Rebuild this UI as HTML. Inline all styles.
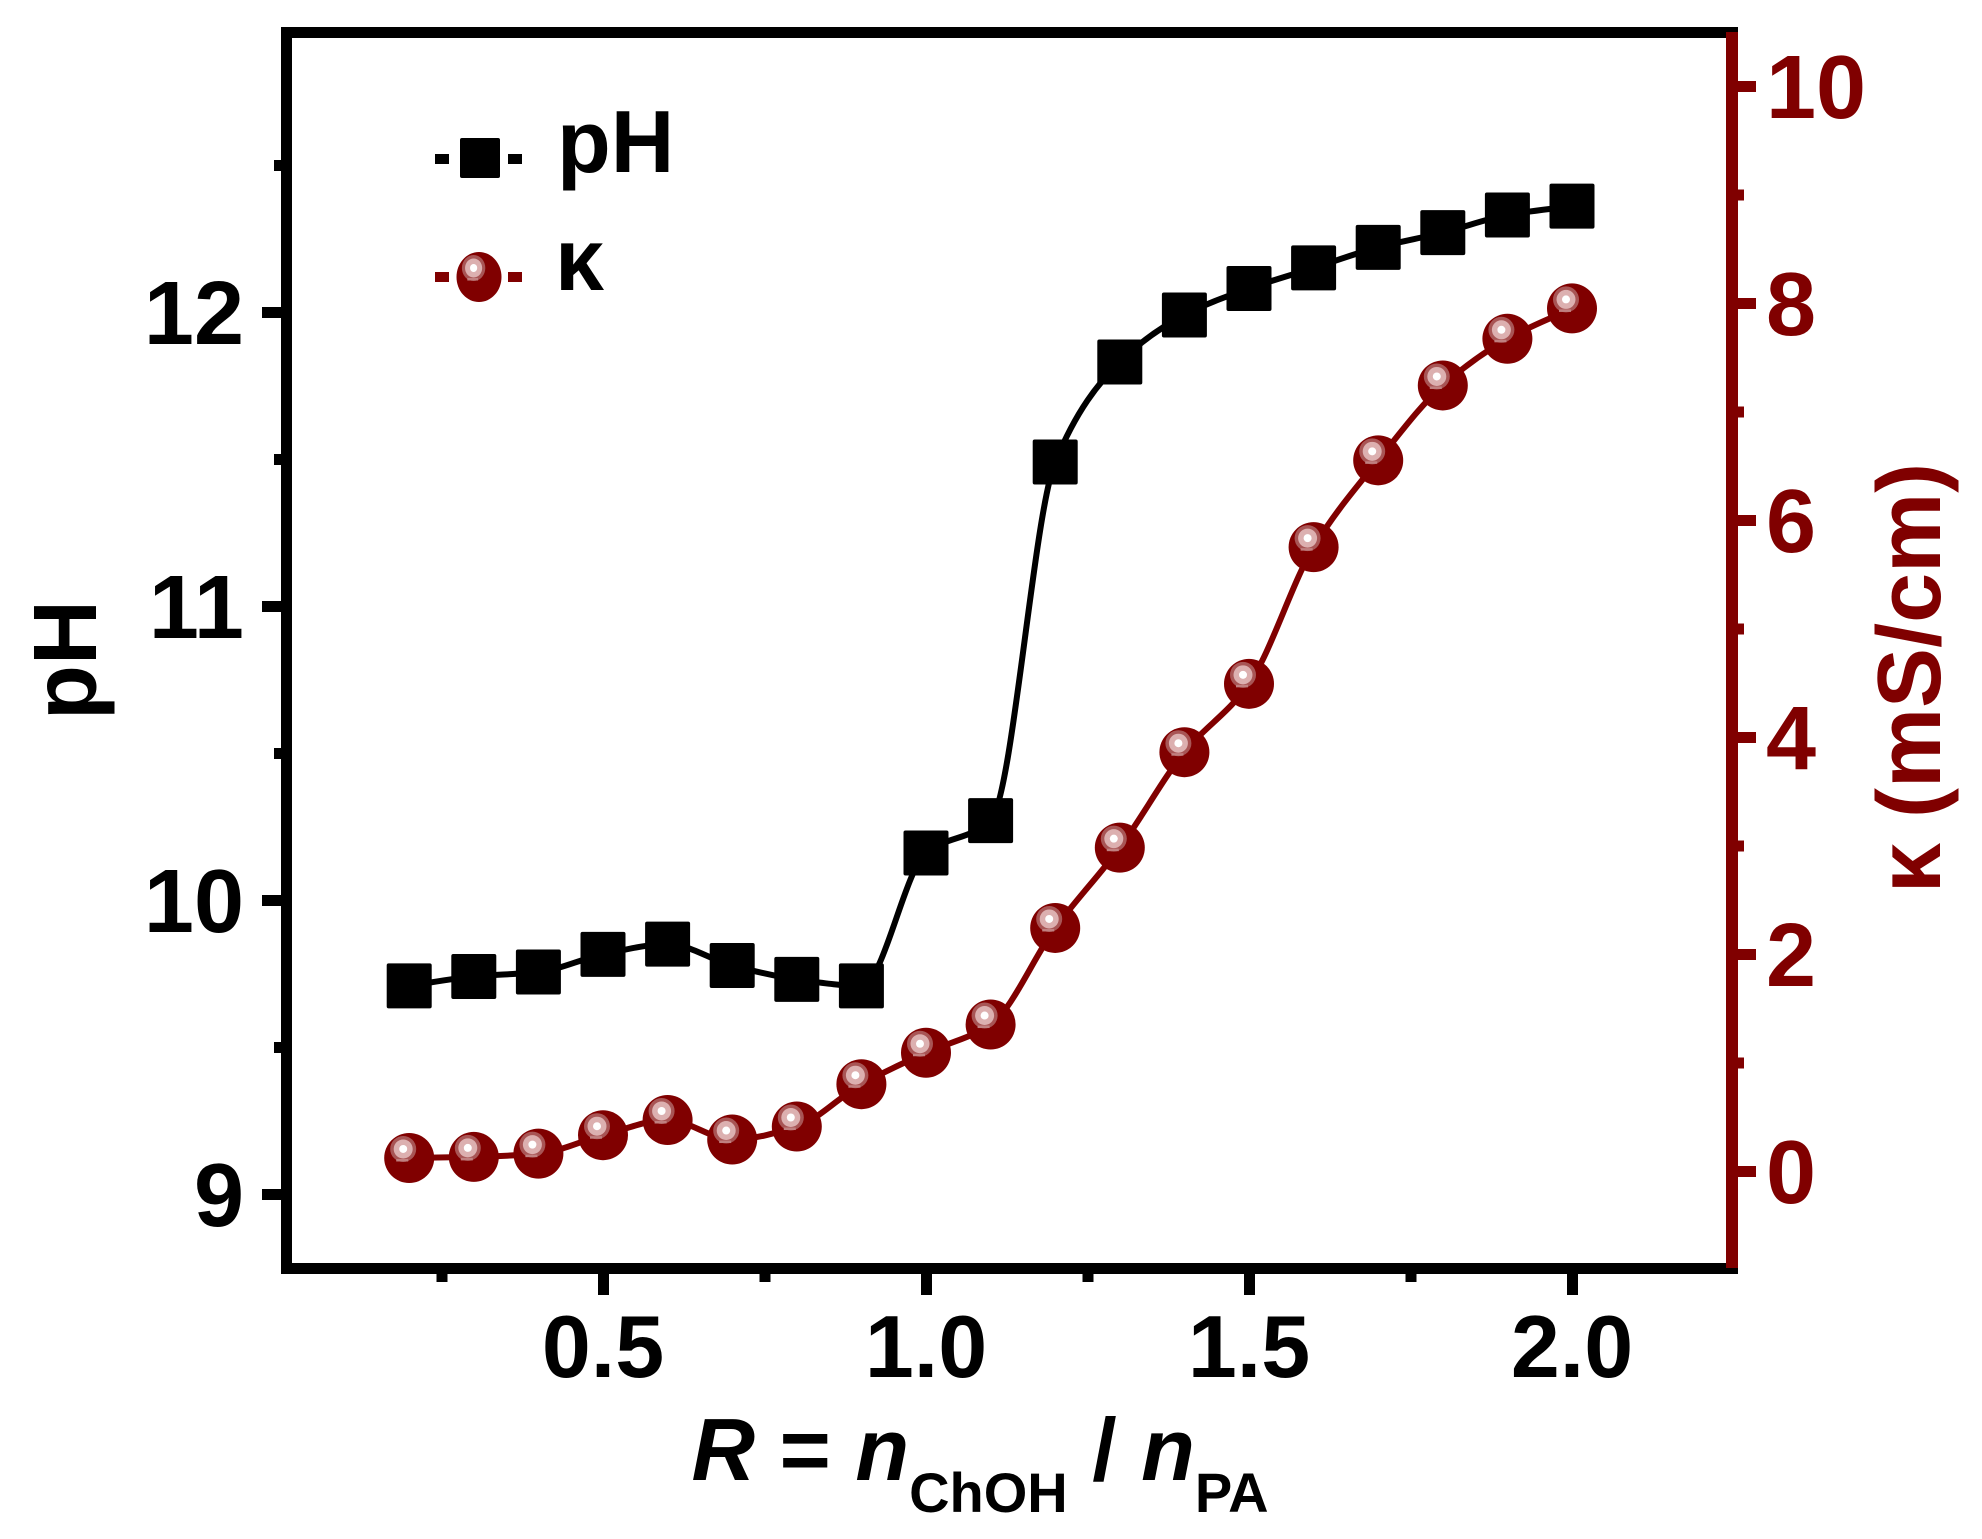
<!DOCTYPE html>
<html><head><meta charset="utf-8"><style>
html,body{margin:0;padding:0;background:#fff;}
svg{display:block;}
text{font-family:"Liberation Sans",Arial,sans-serif;font-weight:bold;}
</style></head><body>
<svg id="s" width="1982" height="1539" viewBox="0 0 1982 1539" xmlns="http://www.w3.org/2000/svg">
<defs>
<g id="ball">
<circle cx="0" cy="0" r="25" fill="#800000"/>
<circle cx="-6" cy="-9" r="13" fill="#a85555"/>
<circle cx="-6" cy="-9" r="9.5" fill="#dcb0b0"/>
<circle cx="-6" cy="-9" r="4" fill="#ffffff"/>
<rect x="-13" y="1" width="12" height="2.5" fill="#c08080"/>
</g>
</defs>
<g id="curves"></g>
<g id="marks"></g>
<rect x="281" y="27" width="1457" height="11" fill="#000"/>
<rect x="281" y="1263" width="1457" height="11" fill="#000"/>
<rect x="281" y="27" width="11" height="1247" fill="#000"/>
<rect x="1726" y="32" width="12" height="1236" fill="#800000"/>
<g id="ticks"></g>
<g font-size="90" fill="#000" text-anchor="end">
<text x="244" y="1226">9</text>
<text x="244" y="932">10</text>
<text x="244" y="638">11</text>
<text x="244" y="344">12</text>
</g>
<g font-size="90" fill="#800000" text-anchor="start">
<text x="1766" y="1203">0</text>
<text x="1766" y="986">2</text>
<text x="1766" y="769">4</text>
<text x="1766" y="552">6</text>
<text x="1766" y="335">8</text>
<text x="1766" y="118">10</text>
</g>
<g font-size="88" fill="#000" text-anchor="middle">
<text x="603" y="1377">0.5</text>
<text x="926" y="1377">1.0</text>
<text x="1249" y="1377">1.5</text>
<text x="1572" y="1377">2.0</text>
</g>
<text x="980" y="1480" font-size="88" text-anchor="middle"><tspan font-style="italic">R</tspan> = <tspan font-style="italic">n</tspan><tspan font-size="56" dy="32">ChOH</tspan><tspan dy="-32"> / </tspan><tspan font-style="italic">n</tspan><tspan font-size="56" dy="32">PA</tspan></text>
<text transform="translate(96,660) rotate(-90)" font-size="90" text-anchor="middle">pH</text>
<text transform="translate(1940,678) rotate(-90)" font-size="90" fill="#800000" text-anchor="middle">κ (mS/cm)</text>
<rect x="435" y="154" width="14" height="10" fill="#000"/>
<rect x="508" y="154" width="14" height="10" fill="#000"/>
<rect x="460" y="138" width="40" height="40" rx="2" fill="#000"/>
<text x="557" y="172" font-size="88">pH</text>
<rect x="435" y="272" width="14" height="10" fill="#800000"/>
<rect x="508" y="272" width="14" height="10" fill="#800000"/>
<g transform="translate(479,277) scale(0.9,1)"><use href="#ball"/></g>
<text x="555" y="290" font-size="88">κ</text>
</svg>
<script>
var NS="http://www.w3.org/2000/svg";
function X(v){return 603+(v-0.5)*646;}
function YP(v){return 1194-(v-9)*294;}
function YK(v){return 1171-v*108.5;}
var xs=[],i;for(i=0;i<19;i++)xs.push(0.2+0.1*i);
var ph=[9.708,9.74,9.755,9.815,9.85,9.777,9.73,9.708,10.16,10.27,11.49,11.83,11.99,12.08,12.15,12.22,12.27,12.33,12.36];
var ka=[0.12,0.13,0.16,0.33,0.47,0.29,0.41,0.8,1.09,1.35,2.24,2.98,3.86,4.49,5.75,6.55,7.24,7.67,7.95];
function path(p){var n=p.length,d=[],m=[],k;
for(k=0;k<n-1;k++)d.push((p[k+1][1]-p[k][1])/(p[k+1][0]-p[k][0]));
m[0]=d[0];m[n-1]=d[n-2];
for(k=1;k<n-1;k++){if(d[k-1]*d[k]<=0)m[k]=0;else{var w1=2*1+1,w2=1+2;m[k]=(w1+w2)/(w1/d[k-1]+w2/d[k]);}}
var s="M"+p[0][0]+","+p[0][1];
for(k=0;k<n-1;k++){var h=(p[k+1][0]-p[k][0])/3;
s+=" C"+(p[k][0]+h)+","+(p[k][1]+m[k]*h)+" "+(p[k+1][0]-h)+","+(p[k+1][1]-m[k+1]*h)+" "+p[k+1][0]+","+p[k+1][1];}
return s;}
function el(t,a,par){var e=document.createElementNS(NS,t);for(var k in a)e.setAttribute(k,a[k]);par.appendChild(e);return e;}
var cg=document.getElementById("curves"),mg=document.getElementById("marks"),tg=document.getElementById("ticks");
var pp=xs.map(function(x,i){return [X(x),YP(ph[i])];}),kp=xs.map(function(x,i){return [X(x),YK(ka[i])];});
el("path",{d:path(pp),fill:"none",stroke:"#000","stroke-width":6},cg);
el("path",{d:path(kp),fill:"none",stroke:"#800000","stroke-width":6},cg);
pp.forEach(function(p){el("rect",{x:p[0]-22.5,y:p[1]-22.5,width:45,height:45,rx:2,fill:"#000"},mg);});
kp.forEach(function(p){el("use",{href:"#ball",transform:"translate("+p[0]+","+p[1]+")"},mg);});
[0.5,1,1.5,2].forEach(function(v){el("rect",{x:X(v)-5,y:1273,width:11,height:22,fill:"#000"},tg);});
[0.25,0.75,1.25,1.75].forEach(function(v){el("rect",{x:X(v)-5,y:1273,width:11,height:9,fill:"#000"},tg);});
[9,10,11,12].forEach(function(v){el("rect",{x:262,y:YP(v)-5,width:20,height:11,fill:"#000"},tg);});
[9.5,10.5,11.5,12.5].forEach(function(v){el("rect",{x:274,y:YP(v)-5,width:8,height:11,fill:"#000"},tg);});
[0,2,4,6,8,10].forEach(function(v){el("rect",{x:1738,y:YK(v)-5,width:18,height:11,fill:"#800000"},tg);});
[1,3,5,7,9].forEach(function(v){el("rect",{x:1738,y:YK(v)-5,width:6,height:11,fill:"#800000"},tg);});
</script>
</body></html>
